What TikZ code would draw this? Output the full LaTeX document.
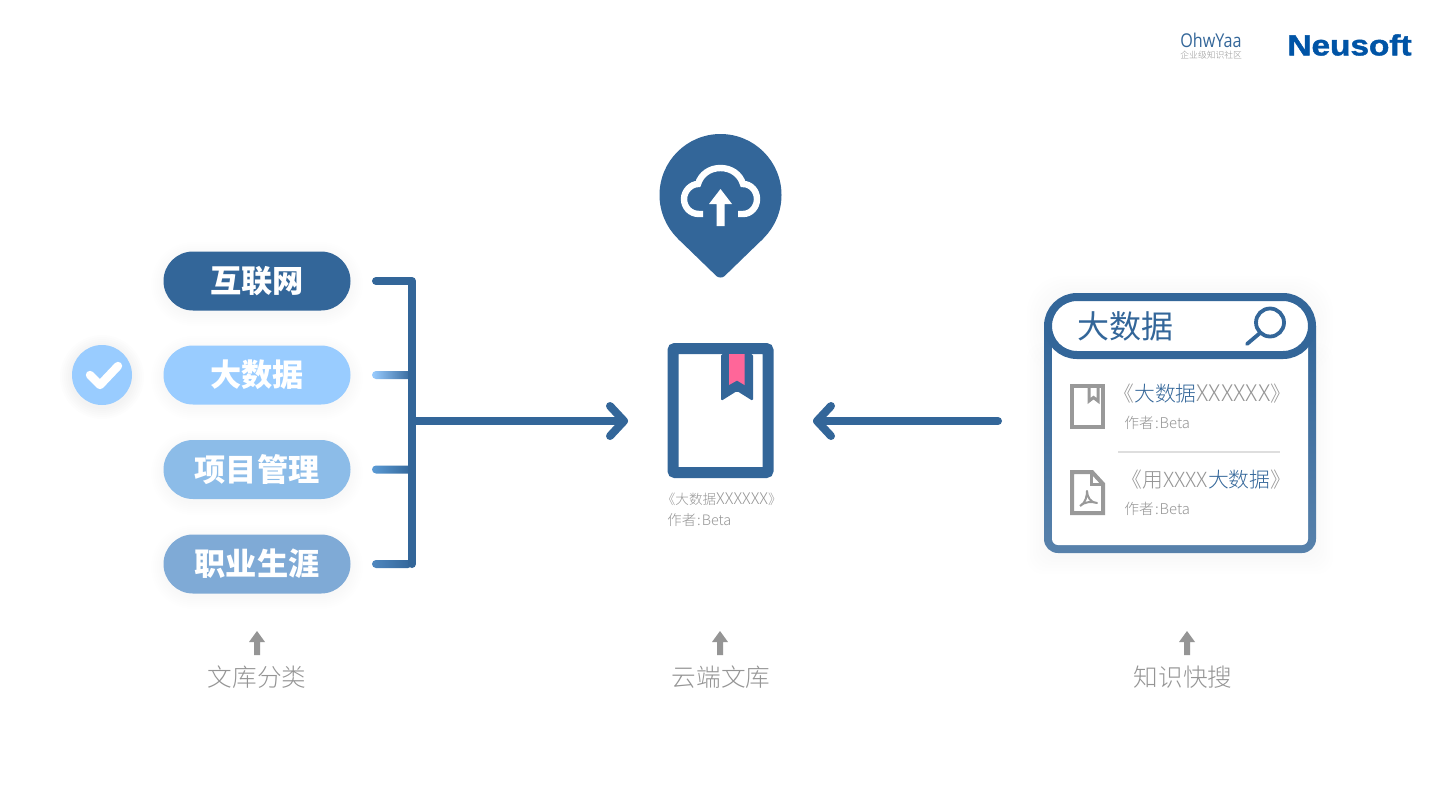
\documentclass[tikz,border=0pt]{standalone}
\usepackage{fontspec}
\setmainfont{Noto Sans CJK SC}
\newfontfamily\lgt{Noto Sans CJK SC Light}
\newfontfamily\logofont{Open Sans}
\newfontfamily\neufont[FakeBold=1.5]{Liberation Sans Bold}
\definecolor{navy}{HTML}{336699}
\definecolor{sky}{HTML}{99CCFF}
\definecolor{mid}{HTML}{8CBCE8}
\definecolor{low}{HTML}{7FAAD6}
\definecolor{tickb}{HTML}{5B9BD5}
\definecolor{tickc}{HTML}{4F87BF}
\definecolor{txtgray}{HTML}{959595}
\definecolor{iconb}{HTML}{999999}
\definecolor{neu}{HTML}{0054A6}
\definecolor{pink}{HTML}{FF6699}
\newcommand{\fs}[1]{\fontsize{#1}{#1}\selectfont}
\newcommand{\pillshadow}[1]{%
  \foreach \w in {60,64,68,72,76,80,84}{\draw[black,opacity=.004,line width=\w*0.5pt,line cap=round] (193,#1+3)--(321,#1+3);}}
\newcommand{\authorline}{作者{\kern.5pt}:{\kern.5pt}Beta}
\tikzset{
  pill/.style={rounded corners=14.75pt,minimum width=93.5pt,minimum height=29.5pt,inner sep=0pt,text=white,font=\bfseries\fs{15.6}},
  capt/.style={text=txtgray,inner sep=0pt,font=\lgt\fs{12.3}},
  bar/.style={navy,line width=4pt,line cap=round,line join=round},
  uparrow/.style={fill=txtgray,draw=none},
  icon/.style={draw=iconb,line width=2pt,line join=miter},
  titl/.style={text=txtgray,inner sep=0pt,anchor=west,font=\lgt\fs{10.4}},
  author/.style={text=txtgray,inner sep=0pt,anchor=west,font=\lgt\fs{7.4}},
}
\begin{document}
\begin{tikzpicture}[x=0.5pt,y=-0.5pt]
\useasboundingbox (0,0) rectangle (1440,810);
\fill[white] (0,0) rectangle (1440,810);
% logos
\node[inner sep=0pt,anchor=west,text=navy,xscale=.85,font=\logofont\fs{9.5}] (ohw) at (1180,40) {OhwYaa};
\node[inner sep=0pt,anchor=west,text=txtgray,font=\lgt\fs{4.4}] (ohwsub) at (1180,55) {企业级知识社区};
\node[inner sep=0pt,anchor=west,text=neu,xscale=1.15,font=\neufont\fs{14.5}] (neusoft) at (1287,45) {Neusoft};
% pills
\pillshadow{281}\pillshadow{375}\pillshadow{469.5}\pillshadow{564}
\foreach \r in {32,34,36,38,40,42}{\fill[black,opacity=.006] (102,377) circle (\r*0.5pt);}
\fill[sky] (102,375) circle (15pt);
\draw[white,line width=4.2pt,line cap=round,line join=round] (90,375)--(100,385)--(118,366);
\node[pill,fill=navy] (p1) at (257,281) {\raisebox{.6pt}{互联网}};
\node[pill,fill=sky] (p2) at (257,375) {\raisebox{.6pt}{大数据}};
\node[pill,fill=mid] (p3) at (257,469.5) {\raisebox{.6pt}{项目管理}};
\node[pill,fill=low] (p4) at (257,564) {\raisebox{.6pt}{职业生涯}};
% bracket
\coordinate (b1) at (376,281);\coordinate (b2) at (412,281);\coordinate (b3) at (412,564);
\shade[left color=sky,right color=navy,rounded corners=2pt] (372,371) rectangle (412,379);
\shade[left color=tickb,right color=navy,rounded corners=2pt] (372,465.5) rectangle (412,473.5);
\shade[left color=tickc,right color=navy,rounded corners=2pt] (372,560) rectangle (412,568);
\draw[bar] (b1)--(b2)--(b3);
% left arrow
\coordinate (al) at (412,421);\coordinate (ar) at (624,421);
\draw[bar] (al)--(ar);
\draw[bar] (610,406)--(ar)--(610,436);
% right arrow
\coordinate (rl) at (998,421);\coordinate (rr) at (817,421);
\draw[bar] (rl)--(rr);
\draw[bar] (831,406)--(rr)--(831,436);
% pin
\fill[navy] (720.5,195) circle (30.5pt);
\fill[navy] (720.5,195)--(678,238.8)--(716.5,276.1) .. controls (718.5,278) and (722.5,278) .. (724.5,276.1)--(763,238.8)--cycle;
\draw[white,line width=3.2pt] (703,214)--(699,214) .. controls (690,214) and (684,207) .. (684,199) .. controls (684,191) and (691,184) .. (698,184) .. controls (701,174) and (710,168) .. (720.5,168) .. controls (731,168) and (740,174) .. (743,184) .. controls (751,184) and (757,191) .. (757,199) .. controls (757,207) and (751,214) .. (743,214)--(738,214);
\fill[white] (720.5,189)--(732,204)--(724.5,204)--(724.5,226)--(716.5,226)--(716.5,204)--(709,204)--cycle;
% book
\node[draw=navy,line width=5.5pt,rounded corners=1pt,minimum width=47.5pt,minimum height=62pt,inner sep=0pt] (book) at (720.5,410.5) {};
\fill[navy,rounded corners=.8pt] (721,354)--(721,401)--(737,391)--(753,401)--(753,354)--cycle;
\fill[pink] (729,354)--(729,385)--(737,380.5)--(744.5,385)--(744.5,354)--cycle;
\node[inner sep=0pt,anchor=west,text=txtgray,font=\lgt\fs{6.8}] (bt) at (661.4,499) {《大数据{\fs{8}XXXXXX}》};
\node[inner sep=0pt,anchor=west,text=txtgray,font=\lgt\fs{7.2}] (ba) at (667,520) {\authorline};
% search card
\foreach \d in {2,5,8,11,14,17}{\fill[black,opacity=.005,rounded corners=8pt] (1044-\d,360-\d) rectangle (1316+\d,553+4+\d);}
\foreach \d in {2,5,8,11,14,17}{\fill[black,opacity=.004,rounded corners=18pt] (1044-\d,293-\d) rectangle (1316+\d,359+\d);}
\shade[top color=navy,bottom color=navy!82!white] (1044,326) [rounded corners=7pt] -- (1044,553) -- (1316,553) [sharp corners] -- (1316,326) -- cycle;
\fill[white] (1052,326) [rounded corners=3pt] -- (1052,545) -- (1308,545) [sharp corners] -- (1308,326) -- cycle;
\node[draw=navy,fill=white,line width=4pt,rounded corners=14.5pt,minimum width=132pt,minimum height=29pt,inner sep=0pt] (search) at (1180,326) {};
\node[inner sep=0pt,anchor=west,text=navy,font=\fs{16}] (st) at (1077,326) {大数据};
\draw[navy,line width=1.9pt] (1270,322.5) circle (7pt);
\draw[navy,line width=1.9pt,line cap=round] (1260,333)--(1247,344);
% list
\draw[icon] (1072,386) rectangle (1103,427);
\draw[iconb,line width=1.5pt] (1089,386)--(1089,401)--(1093.5,397.5)--(1098,401)--(1098,386);
\node[titl] (t1) at (1113,394) {《{\color{navy}大数据}{\fs{11.4}XXXXXX}》};
\node[author] (a1) at (1124,423) {\authorline};
\draw[black!13,line width=.7pt] (1118,452)--(1280,452);
\draw[icon] (1072,472)--(1092,472)--(1103,484)--(1103,513)--(1072,513)--cycle;
\draw[iconb,line width=1.5pt] (1091,472)--(1091,484)--(1103,484);
\draw[iconb,line width=1pt,line join=round] (1080,506) .. controls (1086,503) and (1087,495) .. (1087,491) .. controls (1087,497) and (1091,503) .. (1097,503) .. controls (1091,501) and (1084,502) .. (1080,506);
\node[titl] (t2) at (1121,480) {《用XXXX{\color{navy}大数据}》};
\node[author] (a2) at (1124,509) {\authorline};
% bottom
\foreach \x in {257,720,1187}{
  \fill[uparrow] (\x,631)--(\x+8,642)--(\x+3,642)--(\x+3,655)--(\x-3,655)--(\x-3,642)--(\x-8,642)--cycle;
}
\node[capt] (c1) at (257,677) {文库分类};
\node[capt] (c2) at (721,677) {云端文库};
\node[capt] (c3) at (1183,677) {知识快搜};
\end{tikzpicture}
\end{document}
